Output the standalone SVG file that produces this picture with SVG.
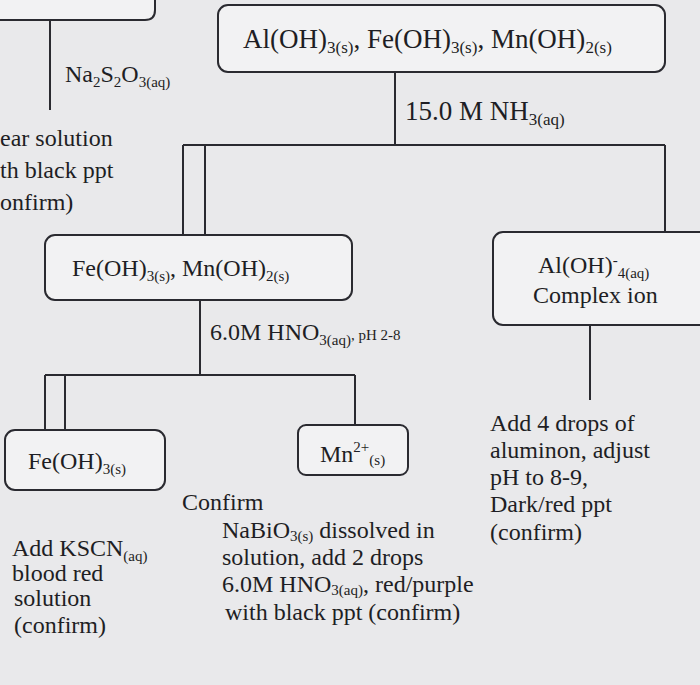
<svg xmlns="http://www.w3.org/2000/svg" width="700" height="685" viewBox="0 0 700 685">
<style>
text{font-family:"Liberation Serif","DejaVu Serif",serif;font-size:24px;fill:#1e1e24}
.s{font-size:15px}
.big{font-size:27px}
.big .s{font-size:17px}
.box{fill:#f2f2f3;stroke:#2a2a30;stroke-width:2}
.ln{stroke:#2a2a30;stroke-width:2;fill:none}
</style>
<rect width="700" height="685" fill="#e9e9eb"/>
<g id="connectors">
<path class="ln" d="M50 20V110M395 72V145M183 145H665M183 145V235M205 145V235M665 145V232M200 300V375M45 375H355M45 375V430M65 375V430M355 375V425M590 325V400"/>
</g>
<g id="n0"><path class="box" d="M-5 -10H155V10Q155 20 145 20H-5Z"/></g>
<g id="lbl-na"><text x="65" y="82">Na<tspan class="s" dy="5">2</tspan><tspan dy="-5">S</tspan><tspan class="s" dy="5">2</tspan><tspan dy="-5">O</tspan><tspan class="s" dy="5">3(aq)</tspan></text></g>
<g id="lbl-left"><text x="0" y="146">ear solution</text><text x="0" y="178">th black ppt</text><text x="0" y="210">onfirm)</text></g>
<g id="n1"><rect class="box" x="218" y="5" width="447" height="67" rx="10"/>
<text class="big" x="243" y="48">Al(OH)<tspan class="s" dy="5">3(s)</tspan><tspan dy="-5">, Fe(OH)</tspan><tspan class="s" dy="5">3(s)</tspan><tspan dy="-5">, Mn(OH)</tspan><tspan class="s" dy="5">2(s)</tspan></text></g>
<g id="lbl-nh3"><text class="big" x="405" y="120">15.0 M NH<tspan class="s" dy="5">3(aq)</tspan></text></g>
<g id="n2"><rect class="box" x="45" y="235" width="307" height="65" rx="10"/>
<text x="72" y="276">Fe(OH)<tspan class="s" dy="5">3(s)</tspan><tspan dy="-5">, Mn(OH)</tspan><tspan class="s" dy="5">2(s)</tspan></text></g>
<g id="n3"><rect class="box" x="493" y="232" width="220" height="93" rx="10"/>
<text x="538" y="273">Al(OH)<tspan class="s" dy="-8">-</tspan><tspan class="s" dy="13">4(aq)</tspan></text>
<text x="533" y="303">Complex ion</text></g>
<g id="lbl-hno3"><text x="210" y="340">6.0M HNO<tspan class="s" dy="5">3(aq)</tspan><tspan class="s" dy="-5">, pH 2-8</tspan></text></g>
<g id="n4"><rect class="box" x="5" y="430" width="160" height="60" rx="10"/>
<text x="28" y="469">Fe(OH)<tspan class="s" dy="5">3(s)</tspan></text></g>
<g id="n5"><rect class="box" x="298" y="425" width="110" height="50" rx="8"/>
<text x="320" y="462">Mn<tspan class="s" dy="-10">2+</tspan><tspan class="s" dy="13">(s)</tspan></text></g>
<g id="lbl-al"><text x="490" y="431">Add 4 drops of</text><text x="490" y="458">aluminon, adjust</text><text x="490" y="485">pH to 8-9,</text><text x="490" y="512">Dark/red ppt</text><text x="490" y="540">(confirm)</text></g>
<g id="lbl-confirm"><text x="182" y="510">Confirm</text></g>
<g id="lbl-mn"><text x="222" y="538">NaBiO<tspan class="s" dy="3">3(s)</tspan><tspan dy="-3"> dissolved in</tspan></text><text x="222" y="565">solution, add 2 drops</text><text x="222" y="592">6.0M HNO<tspan class="s" dy="3">3(aq)</tspan><tspan dy="-3">, red/purple</tspan></text><text x="225" y="620">with black ppt (confirm)</text></g>
<g id="lbl-fe"><text x="12" y="556">Add KSCN<tspan class="s" dy="5">(aq)</tspan></text><text x="12" y="581">blood red</text><text x="14" y="606">solution</text><text x="14" y="633">(confirm)</text></g>
</svg>
